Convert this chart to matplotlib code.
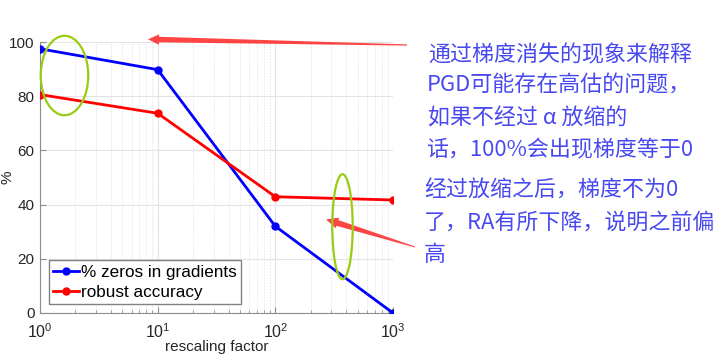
import numpy as np
import matplotlib
matplotlib.use("Agg")
import matplotlib.pyplot as plt
from matplotlib.patches import Polygon, Ellipse
from matplotlib.ticker import LogLocator, NullFormatter

# ---- data ----
rescaling = [1, 10, 100, 1000]
zeros_pct = [97.5, 89.8, 32.0, 0.0]
robust_acc = [80.6, 73.7, 42.9, 41.7]
yticks = [0, 20, 40, 60, 80, 100]
series_labels = ["% zeros in gradients", "robust accuracy"]
xlabel = "rescaling factor"
ylabel = "%"
note1 = ["通过梯度消失的现象来解释", "PGD可能存在高估的问题，", "如果不经过 α 放缩的", "话，100%会出现梯度等于0"]
note2 = ["经过放缩之后，梯度不为0", "了，RA有所下降，说明之前偏", "高"]

W, H = 720, 355
fig = plt.figure(figsize=(W / 100, H / 100), dpi=100)
plt.rcParams['font.family'] = ['Liberation Sans', 'DejaVu Sans']

ax = fig.add_axes([40 / W, 1 - 313 / H, (393 - 40) / W, (313 - 42) / H])
ax.plot(rescaling, zeros_pct, '-o', color='#0000FF', lw=2, ms=5, label=series_labels[0], zorder=3)
ax.plot(rescaling, robust_acc, '-o', color='#FF0000', lw=2, ms=5, label=series_labels[1], zorder=3)
ax.set_xscale('log')
ax.set_xlim(1, 1000)
ax.set_ylim(0, 100)
ax.set_yticks(yticks)
ax.xaxis.set_minor_locator(LogLocator(base=10, subs=np.arange(2, 10)))
ax.xaxis.set_minor_formatter(NullFormatter())
ax.grid(True, which='major', color='#e3e3e3', lw=0.8, ls='-')
ax.grid(True, which='minor', axis='x', color='#e6e6e6', lw=0.7, ls=(0, (1.5, 1.5)))
ax.set_axisbelow(True)
for s in ['top', 'right']:
    ax.spines[s].set_visible(False)
for s in ['left', 'bottom']:
    ax.spines[s].set_color('#8c8c8c')
    ax.spines[s].set_linewidth(0.8)
ax.tick_params(which='both', direction='in', colors='#8c8c8c', labelcolor='#262626')
ax.tick_params(axis='y', labelsize=11, pad=4)
ax.tick_params(axis='x', labelsize=11.5, pad=7)
ax.tick_params(which='major', length=4)
ax.tick_params(which='minor', length=2)
ax.set_xlabel(xlabel, fontsize=11, color='#262626', labelpad=-1)
ax.set_ylabel(ylabel, fontsize=11, color='#262626')
ax.yaxis.set_label_coords((14 - 40) / 353, 0.5)

leg = ax.legend(loc='lower left', bbox_to_anchor=(9 / 353, 9 / 271), fontsize=12.3,
                frameon=True, fancybox=False, edgecolor='#808080', framealpha=1,
                handlelength=1.5, handletextpad=0.1, borderpad=0.25, labelspacing=0.3,
                borderaxespad=0)
leg.get_frame().set_linewidth(1.0)

def P(x, y):
    return (x / W, 1 - y / H)

def tapered_arrow(tip, tail, head_len, head_hw, w0, w1, color):
    tip = np.array(tip, float); tail = np.array(tail, float)
    d = tail - tip; L = np.hypot(*d); u = d / L; n = np.array([-u[1], u[0]])
    hb = tip + u * head_len
    pts = [tip, hb + n * head_hw, hb + n * w0 / 2, tail + n * w1 / 2,
           tail - n * w1 / 2, hb - n * w0 / 2, hb - n * head_hw]
    poly = Polygon([P(*p) for p in pts], closed=True, transform=fig.transFigure,
                   facecolor=color, edgecolor='none', alpha=0.9, zorder=10)
    fig.add_artist(poly)

tapered_arrow((148, 39.3), (407, 45), 11, 5.2, 5.5, 1.2, '#FF3030')
tapered_arrow((326, 219.4), (415, 247), 12, 5.5, 6.0, 1.0, '#FF3030')

for (cx, cy, w, h) in [(64.5, 75.5, 47.5, 79.5), (342.5, 226.7, 20.4, 105)]:
    e = Ellipse(P(cx, cy), w / W, h / H, transform=fig.transFigure,
                facecolor='none', edgecolor='#99CC11', lw=1.6, zorder=11)
    fig.add_artist(e)

tc = '#4848F0'
cjk = ['Noto Sans CJK SC', 'DejaVu Sans']
y1 = [55, 86, 118, 149]
x1 = [428, 427, 428, 426]
for t, x, y in zip(note1, x1, y1):
    fig.text(*P(x, y), t, fontsize=15.8, color=tc, family=cjk, va='center', ha='left')
y2 = [191, 223, 255]
for t, y in zip(note2, y2):
    fig.text(*P(424, y), t, fontsize=15.8, color=tc, family=cjk, va='center', ha='left')

fig.savefig('out.png', dpi=100)
